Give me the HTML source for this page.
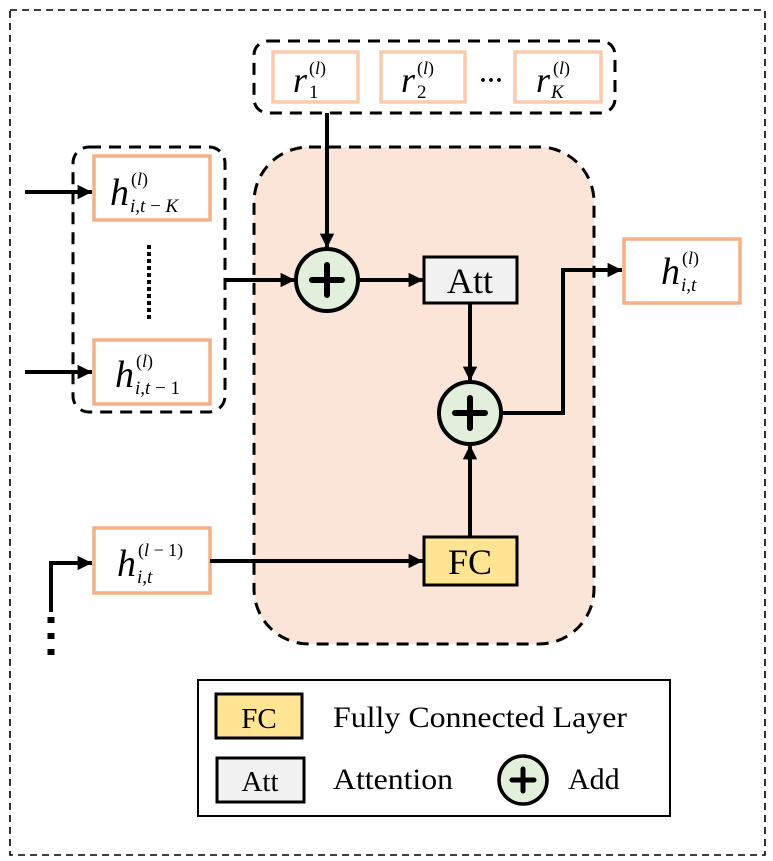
<!DOCTYPE html>
<html><head><meta charset="utf-8"><style>
html,body{margin:0;padding:0;background:#fff;}
svg{display:block;}
.m{font-family:"Liberation Serif",serif;font-style:italic;}
.t{font-family:"Liberation Serif",serif;}
.n{font-family:"Liberation Serif",serif;font-style:normal;}
</style></head><body>
<svg width="773" height="861" viewBox="0 0 773 861" xmlns="http://www.w3.org/2000/svg">
<defs>
<marker id="a" viewBox="0 0 10 10" refX="10" refY="5" markerWidth="4" markerHeight="3.6" orient="auto" markerUnits="strokeWidth">
<path d="M0,0 L10,5 L0,10 z" fill="#000"/></marker>
</defs>
<rect x="10" y="10" width="755" height="845" fill="none" stroke="#000" stroke-width="1.6" stroke-dasharray="7,5"/>
<rect x="254" y="147" width="340" height="497" rx="55" fill="#fbe5d8" stroke="#000" stroke-width="3" stroke-dasharray="12,8"/>
<rect x="254" y="41" width="361" height="72" rx="14" fill="#fff" stroke="#000" stroke-width="3" stroke-dasharray="12,8"/>
<g fill="#fff" stroke="#f9cbae" stroke-width="3.5">
<rect x="273" y="52" width="85" height="50"/>
<rect x="381" y="52" width="84" height="50"/>
<rect x="515" y="52" width="86" height="50"/>
</g>
<text class="t" x="479" y="88" font-size="24" font-weight="bold">···</text>
<!-- r labels -->
<g class="m">
<text x="293" y="92" font-size="36">r</text>
<text x="309" y="98" font-size="19" class="n">1</text>
<text x="309" y="74" font-size="18" class="n">(<tspan font-style="italic">l</tspan>)</text>
<text x="401" y="92" font-size="36">r</text>
<text x="417" y="98" font-size="19" class="n">2</text>
<text x="417" y="74" font-size="18" class="n">(<tspan font-style="italic">l</tspan>)</text>
<text x="536" y="92" font-size="36">r</text>
<text x="551" y="98" font-size="19">K</text>
<text x="553" y="74" font-size="18" class="n">(<tspan font-style="italic">l</tspan>)</text>
</g>
<rect x="73" y="147" width="152" height="265" rx="16" fill="#fff" stroke="#000" stroke-width="3" stroke-dasharray="12,8"/>
<g fill="#fff" stroke="#f4b185" stroke-width="3.5">
<rect x="94" y="156" width="116" height="64"/>
<rect x="94" y="340" width="116" height="64"/>
<rect x="94" y="528" width="116" height="65"/>
<rect x="624" y="239" width="116" height="64"/>
</g>
<line x1="149" y1="245" x2="149" y2="322" stroke="#000" stroke-width="4" stroke-dasharray="4,3"/>
<!-- h labels -->
<g class="m">
<text x="110" y="205" font-size="38">h</text>
<text x="130" y="212" font-size="19">i<tspan class="n">,</tspan>t<tspan class="n"> − </tspan>K</text>
<text x="131" y="185" font-size="18" class="n">(<tspan font-style="italic">l</tspan>)</text>

<text x="115" y="387" font-size="38">h</text>
<text x="135" y="394" font-size="19">i<tspan class="n">,</tspan>t<tspan class="n"> − 1</tspan></text>
<text x="136" y="367" font-size="18" class="n">(<tspan font-style="italic">l</tspan>)</text>

<text x="117" y="576" font-size="38">h</text>
<text x="137" y="583" font-size="19">i<tspan class="n">,</tspan>t</text>
<text x="138" y="556" font-size="18" class="n">(<tspan font-style="italic">l</tspan> − 1)</text>

<text x="661" y="284" font-size="38">h</text>
<text x="681" y="291" font-size="19">i<tspan class="n">,</tspan>t</text>
<text x="682" y="264" font-size="18" class="n">(<tspan font-style="italic">l</tspan>)</text>
</g>
<g stroke="#000" stroke-width="4" fill="none">
<line x1="25" y1="192" x2="92" y2="192" marker-end="url(#a)"/>
<line x1="25" y1="372" x2="92" y2="372" marker-end="url(#a)"/>
<line x1="226" y1="280" x2="295" y2="280" marker-end="url(#a)"/>
<line x1="327" y1="113" x2="327" y2="248" marker-end="url(#a)"/>
<line x1="358" y1="280" x2="423" y2="280" marker-end="url(#a)"/>
<line x1="470" y1="303" x2="470" y2="381" marker-end="url(#a)"/>
<line x1="470" y1="537" x2="470" y2="445" marker-end="url(#a)"/>
<polyline points="501,413 563,413 563,270 622,270" marker-end="url(#a)"/>
<line x1="210" y1="561" x2="423" y2="561" marker-end="url(#a)"/>
<polyline points="51,612 51,563 92,563" marker-end="url(#a)"/>
<line x1="51" y1="617" x2="51" y2="658" stroke-width="7" stroke-dasharray="6,10"/>
</g>
<rect x="424" y="257" width="93" height="46" fill="#f1f1f1" stroke="#000" stroke-width="3"/>
<text class="t" x="470" y="293" font-size="36" text-anchor="middle">Att</text>
<rect x="424" y="537" width="93" height="48" fill="#ffe494" stroke="#000" stroke-width="3"/>
<text class="t" x="470" y="574" font-size="36" text-anchor="middle">FC</text>
<g stroke="#000">
<circle cx="327" cy="280" r="31" fill="#e2efdb" stroke-width="4"/>
<path d="M312,280 H342 M327,265 V295" stroke-width="6" stroke-linecap="round"/>
<circle cx="470" cy="413" r="31" fill="#e2efdb" stroke-width="4"/>
<path d="M455,413 H485 M470,398 V428" stroke-width="6" stroke-linecap="round"/>
</g>
<rect x="198" y="680" width="472" height="136" fill="#fff" stroke="#000" stroke-width="2"/>
<rect x="216" y="694" width="86" height="44" fill="#ffe494" stroke="#000" stroke-width="3"/>
<text class="t" x="259" y="728" font-size="29" text-anchor="middle">FC</text>
<rect x="217" y="758" width="87" height="44" fill="#f1f1f1" stroke="#000" stroke-width="3"/>
<text class="t" x="260" y="791" font-size="29" text-anchor="middle">Att</text>
<text class="t" x="333" y="727" font-size="30" textLength="294" lengthAdjust="spacingAndGlyphs">Fully Connected Layer</text>
<text class="t" x="333" y="789" font-size="30" textLength="120" lengthAdjust="spacingAndGlyphs">Attention</text>
<g stroke="#000">
<circle cx="523" cy="780" r="24" fill="#e2efdb" stroke-width="3.5"/>
<path d="M512,780 H534 M523,769 V791" stroke-width="5" stroke-linecap="round"/>
</g>
<text class="t" x="568" y="789" font-size="30">Add</text>
</svg>
</body></html>
